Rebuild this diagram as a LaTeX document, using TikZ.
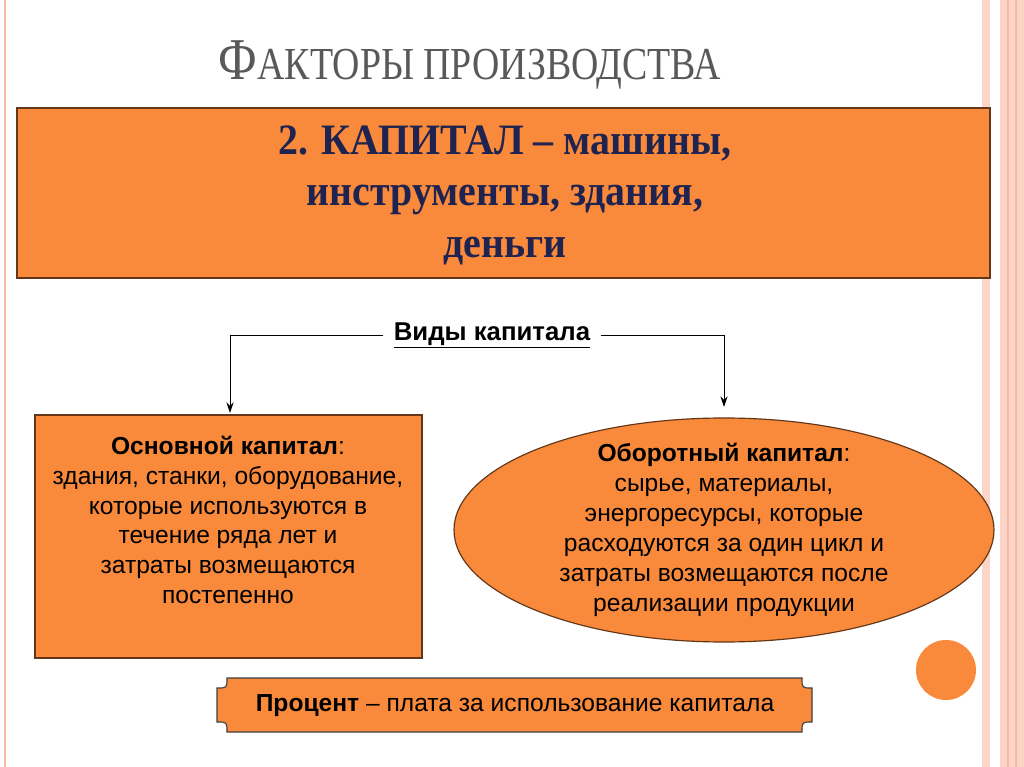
\documentclass[tikz,border=0pt]{standalone}
\usepackage{fontspec}
\setmainfont{Liberation Serif}
\newfontfamily\sans{Liberation Sans}
\usetikzlibrary{arrows.meta}
\definecolor{org}{HTML}{F98A3C}
\definecolor{navy}{HTML}{1F2350}
\definecolor{pinkl}{HTML}{F6B9A4}
\tikzset{box/.style={fill=org,draw=black!60!org,line width=1pt},
txt/.style={font=\sans\fontsize{21}{25.5}\selectfont,align=center,text=black},
conn/.style={line width=0.8pt,-{Stealth[length=9pt,width=6pt]}}}
\begin{document}
\begin{tikzpicture}[x=0.03cm,y=-0.03cm]
\useasboundingbox (0,0) rectangle (1024,767);
\fill[white] (0,0) rectangle (1024,767);
% borders
\draw[pinkl,line width=1.5pt] (5,0)--(5,767);
\fill[pinkl!60] (982,0) rectangle (990,767);
\fill[pinkl!60] (1000,0) rectangle (1024,767);
\draw[pinkl,line width=1pt] (1008,0)--(1008,767) (1016,0)--(1016,767);
% title
\node[text=black!65,inner sep=0,yscale=1.15,xscale=0.95] (title) at (470,65) {\fontsize{44}{44}\selectfont Ф\fontsize{34}{34}\selectfont АКТОРЫ ПРОИЗВОДСТВА};
% main box
\draw[box,line width=1.5pt] (17,108) rectangle (990,278);
\node[font=\bfseries\fontsize{37}{44}\selectfont,text=navy,align=center,xscale=0.92] (cap) at (505,195) {2. КАПИТАЛ – машины,\\инструменты, здания,\\деньги};
% types
\node[font=\sans\bfseries\fontsize{22}{24}\selectfont,inner sep=2pt] (vid) at (492,335) {\underline{Виды капитала}};
\draw[box] (35,415) rectangle (422,658);
\node[txt] (osn) at (228,520) {\textbf{Основной капитал}:\\здания, станки, оборудование,\\которые используются в\\течение ряда лет и\\затраты возмещаются\\постепенно};
\draw[box] (724,530) ellipse [x radius=270, y radius=112];
\node[txt] (obo) at (724,530) {\textbf{Оборотный капитал}:\\сырье, материалы,\\энергоресурсы, которые\\расходуются за один цикл и\\затраты возмещаются после\\реализации продукции};
\coordinate (lt) at (230,413);
\coordinate (rt) at (724,407);
\draw[conn] (vid.west) ++(-8,0) -- (230,335) -- (lt);
\draw[conn] (vid.east) ++(8,0) -- (724,335) -- (rt);
% plaque
\draw[fill=org,draw=black!75,line width=1pt] (227,678) -- (802,678) .. controls (802,688) .. (812,688) -- (812,722) .. controls (802,722) .. (802,732) -- (227,732) .. controls (227,722) .. (217,722) -- (217,688) .. controls (227,688) .. cycle;
\node[font=\sans\fontsize{21}{22}\selectfont] (pr) at (515,706) {\textbf{Процент} – плата за использование капитала};
\fill[org] (946,670) circle (30);
\end{tikzpicture}
\end{document}
